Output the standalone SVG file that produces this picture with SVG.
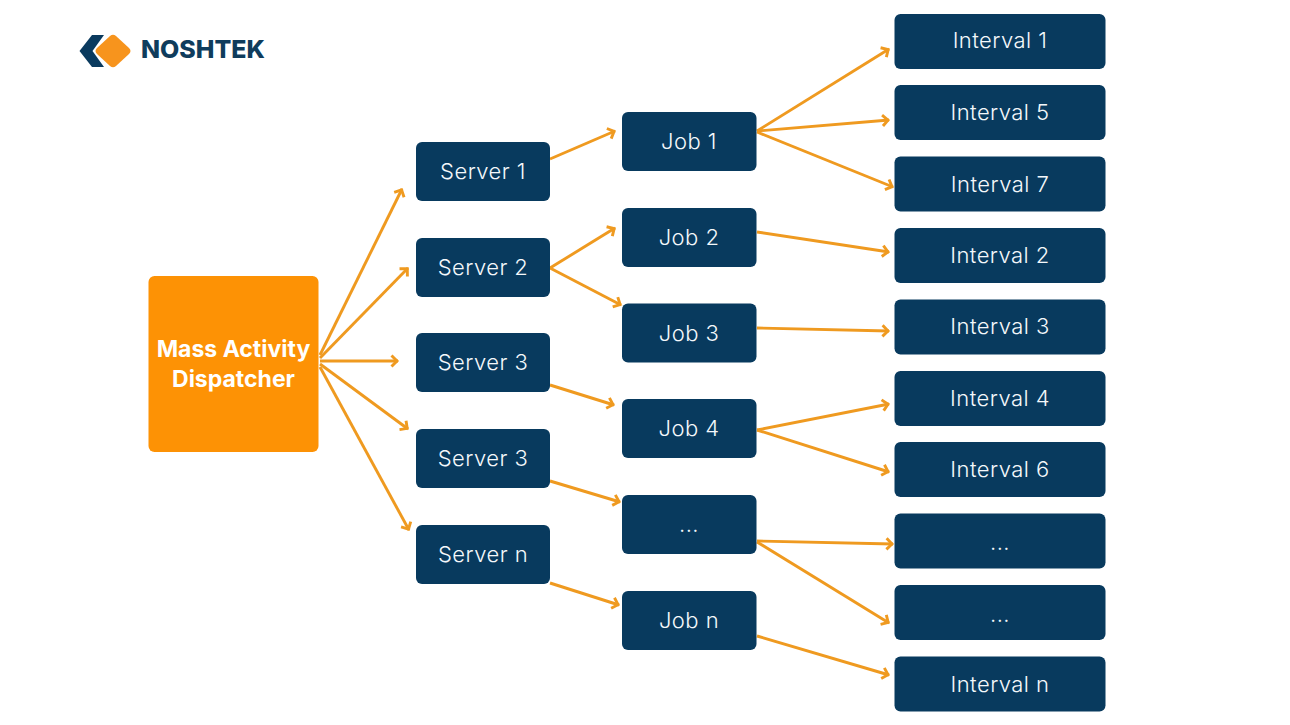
<svg xmlns="http://www.w3.org/2000/svg" width="1290" height="725" viewBox="0 0 1290 725">
<style>
.n{fill:#083a5e}
.t{font-family:"Inter","Noto Sans",sans-serif;font-size:22px;font-weight:300;fill:#f4f8fb;text-anchor:middle;letter-spacing:.45px}
.c path{fill:none;stroke:#ef9a20;stroke-width:2.9;marker-end:url(#a)}
.b{font-family:"Inter","Noto Sans",sans-serif;font-size:23px;font-weight:700;fill:#fff;text-anchor:middle}
</style>
<defs><marker id="a" markerUnits="userSpaceOnUse" markerWidth="15" markerHeight="15" refX="11" refY="7.500" orient="auto"><path d="M4.500 2L10 7.500L4.500 13" fill="none" stroke="#ef9a20" stroke-width="2.9"/></marker></defs>
<rect width="1290" height="725" fill="#fff"/>
<g id="logo">
<path d="M104 35L92 35L79.500 51L92 67L104 67L92.500 51Z" fill="#0a3a5e"/>
<path d="M110 36Q113 33.500 116 36L129 48Q132 51 129 54L116 66Q113 68.500 110 66L97 54Q94 51 97 48Z" fill="#f7941d"/>
<text x="141" y="58" font-family="Inter,'Noto Sans',sans-serif" font-size="24.500" font-weight="800" fill="#0f3c5c" textLength="124" lengthAdjust="spacingAndGlyphs">NOSHTEK</text>
</g>
<g class="c" id="connectors">
<path d="M320 355L402 189"/><path d="M320 358L408 268"/><path d="M320 361L398 361"/><path d="M320 364L408 429"/><path d="M320 367L409 530"/>
<path d="M550 159L615 131"/><path d="M550 268L615 228"/><path d="M550 268L621 305"/><path d="M550 385L614 405"/><path d="M550 481L620 502"/><path d="M550 583L619 605"/>
<path d="M757 131L889 49"/><path d="M757 131L889 120"/><path d="M757 132L893 187"/><path d="M757 232L889 252"/><path d="M757 328L889 331"/><path d="M757 430L889 404"/><path d="M757 430L889 472"/><path d="M757 541L893 544"/><path d="M757 542L889 623"/><path d="M757 636L889 675"/>
</g>
<g id="dispatcher"><rect x="148.500" y="276" width="170" height="176" rx="6" fill="#fd9205"/><text class="b" x="233.500" y="356.500">Mass Activity</text><text class="b" x="233.500" y="387">Dispatcher</text></g>
<g id="server1"><rect class="n" x="416" y="142" width="134" height="59" rx="6"/><text class="t" x="483" y="179">Server 1</text></g>
<g id="server2"><rect class="n" x="416" y="238" width="134" height="59" rx="6"/><text class="t" x="483" y="275">Server 2</text></g>
<g id="server3a"><rect class="n" x="416" y="333" width="134" height="59" rx="6"/><text class="t" x="483" y="370">Server 3</text></g>
<g id="server3b"><rect class="n" x="416" y="429" width="134" height="59" rx="6"/><text class="t" x="483" y="466">Server 3</text></g>
<g id="servern"><rect class="n" x="416" y="525" width="134" height="59" rx="6"/><text class="t" x="483" y="562">Server n</text></g>
<g id="job1"><rect class="n" x="622" y="112" width="134.500" height="59" rx="6"/><text class="t" x="689" y="149">Job 1</text></g>
<g id="job2"><rect class="n" x="622" y="208" width="134.500" height="59" rx="6"/><text class="t" x="689" y="245">Job 2</text></g>
<g id="job3"><rect class="n" x="622" y="303.500" width="134.500" height="59" rx="6"/><text class="t" x="689" y="340.500">Job 3</text></g>
<g id="job4"><rect class="n" x="622" y="399" width="134.500" height="59" rx="6"/><text class="t" x="689" y="436">Job 4</text></g>
<g id="jobdots"><rect class="n" x="622" y="495" width="134.500" height="59" rx="6"/><text class="t" x="689" y="532">...</text></g>
<g id="jobn"><rect class="n" x="622" y="591" width="134.500" height="59" rx="6"/><text class="t" x="689" y="628">Job n</text></g>
<g id="int1"><rect class="n" x="894.500" y="14" width="211" height="55" rx="6"/><text class="t" x="1000" y="48">Interval 1</text></g>
<g id="int5"><rect class="n" x="894.500" y="85" width="211" height="55" rx="6"/><text class="t" x="1000" y="120">Interval 5</text></g>
<g id="int7"><rect class="n" x="894.500" y="156.500" width="211" height="55" rx="6"/><text class="t" x="1000" y="191.500">Interval 7</text></g>
<g id="int2"><rect class="n" x="894.500" y="228" width="211" height="55" rx="6"/><text class="t" x="1000" y="263">Interval 2</text></g>
<g id="int3"><rect class="n" x="894.500" y="299.500" width="211" height="55" rx="6"/><text class="t" x="1000" y="334">Interval 3</text></g>
<g id="int4"><rect class="n" x="894.500" y="371" width="211" height="55" rx="6"/><text class="t" x="1000" y="405.500">Interval 4</text></g>
<g id="int6"><rect class="n" x="894.500" y="442" width="211" height="55" rx="6"/><text class="t" x="1000" y="477">Interval 6</text></g>
<g id="intdots1"><rect class="n" x="894.500" y="513.500" width="211" height="55" rx="6"/><text class="t" x="1000" y="550">...</text></g>
<g id="intdots2"><rect class="n" x="894.500" y="585" width="211" height="55" rx="6"/><text class="t" x="1000" y="621.500">...</text></g>
<g id="intn"><rect class="n" x="894.500" y="656.500" width="211" height="55" rx="6"/><text class="t" x="1000" y="691.500">Interval n</text></g>
</svg>
